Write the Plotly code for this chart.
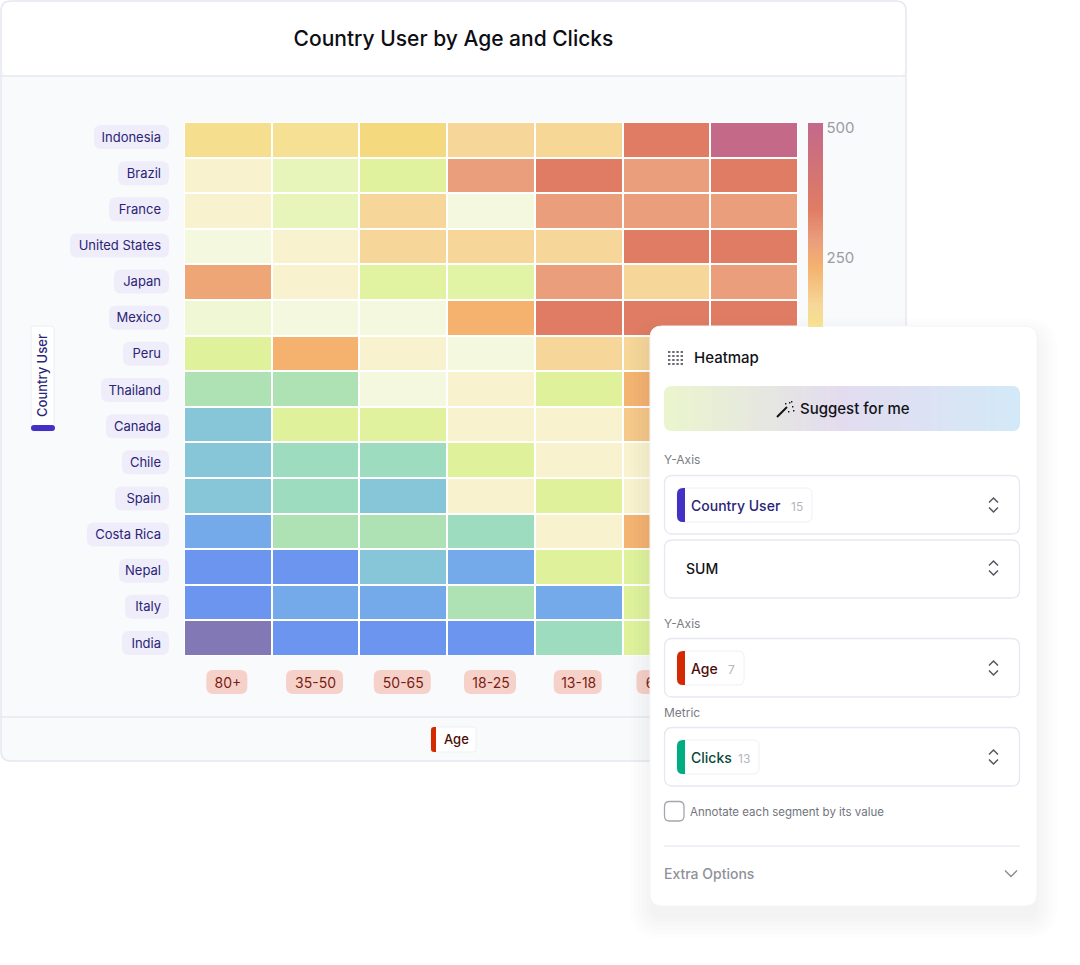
import math
import plotly.graph_objects as go

W, H = 1080, 965
FONT = "Inter"

# rows, top to bottom
countries = ["Indonesia", "Brazil", "France", "United States", "Japan", "Mexico", "Peru", "Thailand",
             "Canada", "Chile", "Spain", "Costa Rica", "Nepal", "Italy", "India"]
ages = ["80+", "35-50", "50-65", "18-25", "13-18", "65-80", "25-35"]

# clicks per age group
clicks_80 = [178, 147, 147, 127, 258, 122, 99, 74, 50, 50, 50, 41, 35, 35, 30]
clicks_35 = [176, 110, 110, 147, 147, 127, 238, 74, 99, 63, 63, 74, 35, 41, 35]
clicks_50 = [186, 100, 194, 194, 101, 127, 147, 127, 100, 63, 50, 74, 50, 41, 35]
clicks_18 = [194, 273, 127, 194, 102, 238, 127, 147, 147, 99, 147, 63, 41, 74, 35]
clicks_13 = [193, 324, 273, 194, 273, 324, 194, 99, 147, 147, 99, 147, 99, 41, 63]
clicks_65 = [324, 273, 273, 324, 194, 324, 194, 235, 210, 147, 147, 235, 99, 99, 99]
clicks_25 = [500, 324, 273, 324, 273, 324, 273, 238, 194, 194, 147, 194, 147, 110, 110]
age_columns = [clicks_80, clicks_35, clicks_50, clicks_18, clicks_13, clicks_65, clicks_25]

country_pill_widths = [75, 51, 60, 99, 55, 60, 46, 68, 63, 47, 54, 82, 50, 44, 47]
age_pill_widths = [41, 57, 57, 52, 48, 58, 58]

colour_stops = [(0, "#8278B6"), (.053, "#6B95EE"), (.109, "#75AAEA"), (.179, "#87C5D9"), (.26, "#9EDCC0"),
                (.317, "#AEE2B5"), (.42, "#DFF29B"), (.457, "#E8F5BA"), (.507, "#F3F8DF"), (.559, "#F8F2CF"),
                (.627, "#F5DF8F"), (.642, "#F4D97E"), (.657, "#F6D799"), (.729, "#F4B26E"), (.778, "#EB9E7C"),
                (.838, "#E07C64"), (.99, "#C46A88"), (1, "#C46A88")]

z_low, z_high = math.log10(30.1), math.log10(513.5)
grid = [[math.log10(col[r]) for col in age_columns] for r in range(len(countries))]

# the colour bar only shows above the panel, so crop the scale there
cut = (655 - 327) / 532
z_cut = z_low + cut * (z_high - z_low)
bar_scale = [(0, "#F6E29A")] + [((t - cut) / (1 - cut), c) for t, c in colour_stops if t > cut and c != "#F4D97E"]


def px(x):
    return x / W


def py(y):
    return 1 - y / H


def rrect(x0, y0, x1, y1, r=0, left_only=False, right_only=False):
    # rounded rectangle, in page pixels
    y0, y1 = -y0, -y1
    rr = 0 if left_only else r
    rl = 0 if right_only else r
    return (f"M{x0 + rl},{y0} L{x1 - rr},{y0} Q{x1},{y0} {x1},{y0 - rr} L{x1},{y1 + rr} Q{x1},{y1} {x1 - rr},{y1} "
            f"L{x0 + rl},{y1} Q{x0},{y1} {x0},{y1 + rl} L{x0},{y0 - rl} Q{x0},{y0} {x0 + rl},{y0} Z")


shapes = []


def box(x0, y0, x1, y1, r=0, fill="white", line=None, lw=1, layer="above", left_only=False, right_only=False):
    shapes.append(dict(type="path", path=rrect(x0, y0, x1, y1, r, left_only, right_only), xsizemode="pixel",
                       ysizemode="pixel", xref="paper", yref="paper", xanchor=0, yanchor=1, fillcolor=fill, layer=layer,
                       line=dict(color=line or "rgba(0,0,0,0)", width=lw if line else 0)))


def stroke(points, color, lw=1.5, layer="above"):
    d = "M" + " L".join(f"{x},{-y}" for x, y in points)
    shapes.append(dict(type="path", path=d, xsizemode="pixel", ysizemode="pixel", xref="paper", yref="paper",
                       xanchor=0, yanchor=1, layer=layer, line=dict(color=color, width=lw)))


notes = []


def label(text, x, y, size=14, color="#111318", anchor="left", weight=400, angle=0):
    # annotations pad their text by about 2px on the left
    shift = -2 if anchor == "left" else 0
    notes.append(dict(text=text, x=px(x + shift), y=py(y), xref="paper", yref="paper", showarrow=False, xanchor=anchor,
                      yanchor="middle", textangle=angle, font=dict(family=FONT, size=size, color=color, weight=weight)))


def updown(y):
    stroke([(989, y - 2.5), (993.5, y - 7), (998, y - 2.5)], "#55575F")
    stroke([(989, y + 2.5), (993.5, y + 7), (998, y + 2.5)], "#55575F")


def chip(x1, y0, tab, text, colour, count, count_x):
    box(677, y0, x1, y0 + 34, 6, "white", "#EEF0F6")
    box(677, y0, 685, y0 + 34, 6, tab, left_only=True)
    label(text, 691, y0 + 17, 14, colour, weight=500)
    label(count, count_x, y0 + 18, 12, "#B4B6BC")


# card behind the chart
box(1, 1, 906, 761, 10, "#F9FAFC", "#E6E8F1", 1.5, "below")
box(2, 2, 905, 76, 9, "white", layer="below")
stroke([(1, 76), (906, 76)], "#E6E8F1", 1.5, "below")
stroke([(1, 717), (906, 717)], "#E6E8F1", 1.5, "below")
shapes.append(dict(type="rect", xref="x domain", yref="y domain", x0=0, x1=1, y0=0, y1=1, fillcolor="white",
                   line=dict(width=0), layer="below"))

# country and age pills, anchored on their axes
for i, w in enumerate(country_pill_widths):
    shapes.append(dict(type="path", xref="paper", yref="y2", xsizemode="pixel", ysizemode="pixel", xanchor=0, yanchor=i,
                       path=rrect(169 - w, -12, 169, 12, 7), fillcolor="#EFEDF9", line=dict(width=0), layer="below"))
for i, w in enumerate(age_pill_widths):
    shapes.append(dict(type="path", xref="x", yref="paper", xsizemode="pixel", ysizemode="pixel", xanchor=i,
                       yanchor=py(682), path=rrect(-w / 2 - 1, -12, w / 2 - 1, 12, 7), fillcolor="#F6D1CA",
                       line=dict(width=0), layer="below"))

# axis name chips
box(31, 326, 54, 431, 3, "white", "#ECEEF5", 1, "below")
box(31, 425, 55, 431, 3, "#4330C4", layer="below")
label("Country User", 42, 376, 13, "#2A2478", "center", 500, -90)
box(431, 727, 476, 752, 3, "white", "#EEF0F6", 1, "below")
box(431, 727, 436, 752, 3, "#D42A00", layer="below", left_only=True)
label("Age", 444, 739, 13, "#4C0D06", weight=500)

# settings panel: soft shadow, then the sheet
for k in range(6):
    g = 20 - 4 * k
    box(650 - g, 326 + 12 - g, 1037 + g, 906 + 12 + g, 12 + g, "rgba(70,75,115,0.013)")
box(650, 326, 1037, 906, 12, "white", "#F3F4F8")

for row in range(4):
    for col in range(4):
        box(668 + col * 4.2, 351 + row * 4, 670.4 + col * 4.2, 353 + row * 4, 0, "#6A6C74")
label("Heatmap", 694, 357, 15, "#111318", weight=500)

# suggest button, gradient cut in overlapping strips
n_strips = 60
left, mid, right = (234, 245, 205), (227, 220, 240), (211, 233, 247)
strip = 356 / n_strips
for s in range(n_strips):
    t = s / (n_strips - 1)
    a, b, u = (left, mid, t * 2) if t < .5 else (mid, right, t * 2 - 1)
    c = f"rgb{tuple(round(a[j] + (b[j] - a[j]) * u) for j in range(3))}"
    x0 = 664 + s * strip
    if s == 0:
        box(x0, 386, x0 + strip + 1, 431, 8, c, left_only=True)
    elif s == n_strips - 1:
        box(x0, 386, 1020, 431, 8, c, right_only=True)
    else:
        box(x0, 386, x0 + strip + 1, 431, 0, c)
stroke([(777, 417), (787, 407)], "#111318", 2)
for dx, dy in [(789, 402), (785, 403), (792, 406), (793, 410), (788, 411), (791, 401)]:
    box(dx, dy, dx + 1.4, dy + 1.4, 0, "#111318")
label("Suggest for me", 800, 408, 15, "#111318", weight=500)

label("Y-Axis", 664, 460, 12, "#7A7C85")
box(664.5, 475.5, 1019.5, 534, 8, "white", "#E6E8F2", 1.3)
chip(812, 488, "#4330C4", "Country User", "#2A2478", "15", 791)
updown(505)
box(664.5, 540, 1019.5, 598, 8, "white", "#E6E8F2", 1.3)
label("SUM", 686, 568, 14, "#111318", weight=500)
updown(568)
label("Y-Axis", 664, 623, 12, "#7A7C85")
box(664.5, 638.5, 1019.5, 697, 8, "white", "#E6E8F2", 1.3)
chip(744, 651, "#D42A00", "Age", "#4C0D06", "7", 728)
updown(668)
label("Metric", 664, 712, 12, "#7A7C85")
box(664.5, 727.5, 1019.5, 786, 8, "white", "#E6E8F2", 1.3)
chip(759, 740, "#00AD80", "Clicks", "#0C4A3A", "13", 738)
updown(757)
box(664.5, 801.5, 684, 821, 5, "white", "#A5A7AE", 1.3)
label("Annotate each segment by its value", 690, 812, 11.5, "#72747C")
stroke([(664, 846), (1020, 846)], "#EBEDF3", 1.3)
label("Extra Options", 664, 873, 14, "#8F9199", weight=500)
stroke([(1005, 870.5), (1011, 876.5), (1017, 870.5)], "#888A92", 1.4)

fig = go.Figure()
fig.add_trace(go.Heatmap(z=grid, x=ages, y=countries, xgap=2, ygap=2, colorscale=colour_stops, zmin=z_low, zmax=z_high,
                         showscale=False, hoverinfo="skip"))
# carries the country labels, which sit on a slightly looser spacing than the rows
fig.add_trace(go.Scatter(x=[ages[0]] * len(countries), y=countries, yaxis="y2", mode="markers",
                         marker=dict(opacity=0), showlegend=False, hoverinfo="skip"))
# carries the colour bar, cropped at the panel edge
fig.add_trace(go.Scatter(x=ages[:2], y=countries[:2], yaxis="y2", mode="markers", showlegend=False, hoverinfo="skip",
                         marker=dict(opacity=0, color=[z_cut, z_high], cmin=z_cut, cmax=z_high, colorscale=bar_scale,
                                     showscale=True,
                                     colorbar=dict(thickness=15, thicknessmode="pixels", len=204, lenmode="pixels",
                                                   x=px(808), xanchor="left", xpad=0, y=py(123), yanchor="top", ypad=0,
                                                   outlinewidth=0, ticks="", tickvals=[math.log10(500), math.log10(250)],
                                                   ticktext=["500", "250"],
                                                   tickfont=dict(family=FONT, size=15, color="#9A9CA3")))))

fig.update_layout(
    width=W, height=H, autosize=False, margin=dict(l=0, r=0, t=0, b=0),
    paper_bgcolor="white", plot_bgcolor="rgba(0,0,0,0)", showlegend=False,
    title=dict(text="Country User by Age and Clicks", x=px(453.5), xanchor="center", y=py(39), yanchor="middle",
               font=dict(family=FONT, size=21, color="#0D0E14", weight=500)),
    xaxis=dict(domain=[px(184), px(798)], type="category", categoryorder="array", categoryarray=ages,
               range=[-0.5, 6.5], showgrid=False, zeroline=False, ticks="", ticklabelstandoff=17,
               tickfont=dict(family=FONT, size=14, color="#7A1E12")),
    yaxis=dict(domain=[py(656), py(122)], type="category", categoryorder="array", categoryarray=countries,
               range=[14.5, -0.5], showgrid=False, zeroline=False, showticklabels=False, ticks=""),
    yaxis2=dict(domain=[py(661.07), py(118.93)], type="category", categoryorder="array", categoryarray=countries,
                range=[14.5, -0.5], anchor="x", showgrid=False, zeroline=False, ticks="", ticklabelstandoff=22,
                tickfont=dict(family=FONT, size=13, color="#2A2478")),
    shapes=shapes, annotations=notes,
)

fig.write_html("out.html", config={"displayModeBar": False}, post_script="document.body.style.margin='0';")
